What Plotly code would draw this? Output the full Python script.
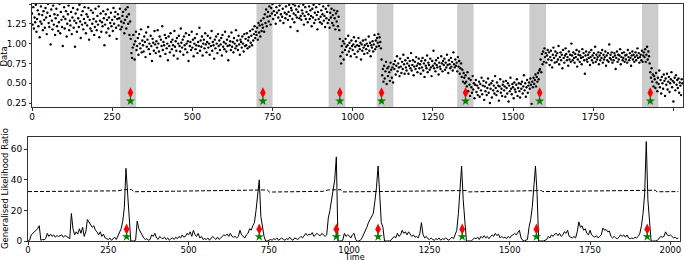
import plotly.graph_objects as go

# ---------------- data ----------------
# top panel: observed data (values in hundredths), sampled every 2 time steps
seg_a = [138,124,146,119,133,127,149,115,131,142,122,137,108,128,147,125,136,117,141,130,
120,145,133,112,139,150,126,121,135,99,143,129,118,148,124,137,111,132,144,122,
136,116,127,150,113,140,130,121,97,134,146,119,131,141,109,125,137,148,117,129,
123,140,112,133,145,120,129,96,138,126,115,143,132,121,149,128,107,136,124,141,
118,131,146,126,113,137,123,134,145,105,130,119,142,116,125,139,131,111,121,144,
128,117,135,124,147,108,129,138,115,127,122,141,132,98,124,137,114,130,143,119,
133,110,126,139,122,130,116,145,125,134,140,120,106,131,137,123,132,144,118,128,
121,135,140,126,113,130,143,119,134,146,125,137,111,128]
seg_b = [106,88,82,95,111,99,80,103,115,92,97,107,86,112,100,94,118,89,104,98,
90,109,102,83,114,96,105,121,93,100,87,110,97,78,106,101,91,116,99,88,
103,95,117,100,90,109,84,105,97,122,92,102,98,111,87,107,94,100,79,109,
97,89,113,102,93,105,98,85,116,96,103,91,107,81,100,110,97,90,119,101,
95,105,86,109,98,93,113,100,89,103,78,111,97,102,92,115,95,105,84,100,
107,93,98,112,88,102,97,120,91,104,96,109,85,100,105,94,113,99,89,102,
110,95,100,86,107,97,116,91,102,98,81,105,94,109,100,88,112,97,104,92,
99,107,85,111,96,102,93,115,100,90,105,97,79,109,98,103,92,114,96,102,
89,107,100,94,117,97,104,92,110,99,86,105,102,95,109,100,90,112,97,106,
98,113,94,104,108,96,116,101,110,98,118,104,112,122,107,115,
111,120,105,126,114,123,109,129,116,124]
seg_c = [120,132,115,137,126,143,122,134,140,128,147,135,124,145,138,
150,131,141,152,136,125,146,139,153,133,142,148,129,137,151,
134,144,126,152,139,132,147,137,155,130,140,149,135,121,145,
142,131,150,138,127,148,136,143,133,116,140,147,132,151,135,
130,142,138,149,124,135,146,131,140,153,127,137,147,131,142,
135,122,144,133,149,126,139,130,146,136,118,140,131,150,127,
134,142,125,137,147,129,135,121,144,132,140,126,148,130,120,
139,133,144,126,136,123,142,132,118,138,128,141,122,134,117]
seg_d = [106,84,75,97,89,103,80,100,92,106,96,86,98,110,90,101,94,84,104,97,
92,99,108,87,96,103,83,98,90,107,97,93,101,80,99,91,104,95,87,98,
105,93,100,88,97,109,91,101,84,98,95,103,90,99,111,93,104,96,107,101,
112,97,108,102,94]
seg_e = [80,60,68,52,72,56,65,77,49,69,59,71,64,53,76,67,57,70,51,74,
68,78,61,72,84,65,75,70,59,81,71,63,77,68,86,74,62,79,70,66,
75,82,62,72,78,69,88,66,73,79,60,71,77,68,83,72,64,75,81,69,
74,62,78,70,82,66,75,58,79,72,69,85,64,76,73,67,81,70,59,78,
72,91,69,75,65,79,73,70,82,61,76,71,68,84,75,65,78,73,81,67,
76,70,86,73,63,79,74,69,82,71,77,66,89,74,70,80,72,76,65,83,
71,78,62,69,75,58,67,52,63,57,50]
seg_f = [60,52,46,64,40,56,48,34,54,45,38,59,42,50,31,48,54,39,47,35,
44,52,33,49,41,57,36,47,53,29,46,40,51,35,44,56,38,48,25,43,
50,32,53,41,47,37,59,44,35,51,40,47,28,46,55,38,43,34,48,52,
41,46,33,53,44,37,50,27,47,40,57,43,36,49,45,31,51,42,39,48,
55,34,44,50,40,32,49,43,52,37,46,60,41,50,33,45,54,38,47,51,
43,56,48,24,52,45,57,49,54,61,46,58,52,63,55,66]
seg_g = [68,80,64,87,74,90,77,94,83,88,
76,85,92,80,89,73,83,91,79,70,86,95,82,76,90,85,77,88,80,97,
74,83,89,79,86,69,92,82,76,85,94,87,79,83,72,90,80,86,77,100,
85,79,89,82,76,87,83,92,71,80,86,90,77,85,82,74,93,83,88,79,
62,85,90,80,77,86,82,89,73,83,92,79,85,76,88,82,96,77,86,80,
83,89,74,85,79,88,82,92,76,86,80,83,90,72,85,79,88,77,99,82,
86,80,89,76,83,79,88,85,68,82,90,77,86,80,85,93,74,83,88,79,
82,89,77,85,80,86,76,92,83,79,88,82,72,85,90,80,86,77,83,89,
79,85,94,82,88,76,83,86,79,91,77,85,
89,83,93,77,86,96,80,90,84,75]
seg_h = [64,57,69,52,61,46,59,55,44,63,51,40,57,49,66,45,54,37,58,50,
43,61,53,34,56,48,62,42,52,58,39,50,55,64,45,53,27,51,57,41,
60,48,54,44,56,38,51,47,35,55,50]

data_hundredths = seg_a + seg_b + seg_c + seg_d + seg_e + seg_f + seg_g + seg_h
data_time = list(range(0, 2 * len(data_hundredths), 2))
data_values = [v / 100 for v in data_hundredths]

# bottom panel: generalised likelihood ratio, every 5 time steps
glr_values = [
0,0.5,4,5,6,7,8,10,0.5,1,0.8,1.5,5,3,4.5,3,4,2.5,3.5,3,
3.5,4,2.5,3.5,3,2,1.5,18,8,4,6,4.5,8,5,9,3,6,14,12,11,
9,10,7,6,4,6,3,4.5,2,1.5,1,2,0.5,1.5,2.5,1,3,5,8,13,
22,47.5,30,12,0,0,0,0.5,13,8,6,3,2,1,1.5,0.5,1,4,3,5,
2,1,3,2,1.5,2.5,1,2,0.5,1.5,2,1,2.5,1.5,3,2,4,2.5,3,5,
4,6,3,7,4,3,5,2,3,1,1.5,1,2,0.5,1.5,3,2,1,2.5,1,
2,3,4,3.5,4.5,3,5,3,2.5,3,2,3,7,4,3,2,4,5,8,7,
10,12,20,31,40,16,9,3,0,0,0.5,1,0.5,1.5,1,2,0.5,1,2,1,
0.5,1.5,1,2.5,1,0.5,2,1.5,1,2,3,2,4,5,3.5,4.5,4,5.5,3,4,
5,4,3.5,5,4,3,4,15,20,26,32,40,55,0,0,0,0.5,5,3,4,
3.5,2,4,5,1,0,0,0.5,2,4,6,9,12,14,16,18,26,35,49,25,
12,9,0,0,0,0,0.5,2,3,2,5,3,4,7,5,6,4,6,4,3,
4,2.5,3,2,5,12,4,2,3,1.5,1,2,1,0.5,1.5,1,2,0.5,1.5,1,
2,1,0.5,1.5,2.5,1.5,4,7,18,31,49,27,14,0,0,0,0,1,2,1.5,
2.5,1,3,2,3.5,2,3,1.5,2.5,4,3,5,3.5,4.5,2,3,2,2.5,1.5,3,
2,3.5,4,5,4,5.5,7,2,0.5,0,0.5,1,9,14,22,33,49,31,0,0,
0,0,0.5,1,3,2,4,3,4.5,5,3.5,5,3,4,6,5,7,3,2.5,2,
3,2,6,12.5,9,10,7,8,5,4,7,4,3,2.5,3.5,2,3,4,8.5,7,
7.5,6,6.5,3,2,3,2,1.5,2.5,4,3,4,2.5,4,2,1.5,2,1.5,2.5,2,
3,5,10,18,31,65,27,12,0,0,0,0,0.5,2,3,2.5,3,6,4,3.5,
4,3,2,2.5,1.5,2]
glr_time = list(range(0, 5 * len(glr_values), 5))

# detection threshold (knots)
thr_time = [0,280,300,322,330,690,700,745,752,920,935,975,980,1340,1350,1365,1370,1570,1580,1598,1603,1900,1920,1953,1958,2025]
thr_values = [32.3,32.8,33.6,33.7,32.2,32.9,33.3,33.4,32.0,32.5,33.4,33.5,32.1,32.6,33.0,33.0,32.1,32.7,33.0,33.0,32.3,32.8,33.2,33.2,32.2,32.3]

# change points
detected_cp = [307, 720, 960, 1090, 1352, 1583, 1928]
true_cp = [307, 720, 960, 1090, 1352, 1583, 1928]
band_start = [275, 700, 925, 1075, 1326, 1551, 1902]
band_end = [325, 750, 977, 1127, 1377, 1603, 1953]

# marker heights
top_detect_y, top_true_y = 0.38, 0.275
bot_detect_y, bot_true_y = 7.7, 2.8

x_ticks = [0, 250, 500, 750, 1000, 1250, 1500, 1750, 2000]
top_y_ticks = [0.25, 0.50, 0.75, 1.00, 1.25, 1.50]
top_y_labels = ["0.25", "0.50", "0.75", "1.00", "1.25", "1.50"]
bot_y_ticks = [0, 20, 40, 60]

# ---------------- figure ----------------
W, H = 685, 261
FONT = "DejaVu Sans"
fig = go.Figure()

fig.add_trace(go.Scatter(x=data_time, y=data_values, mode="markers",
                         marker=dict(color="black", size=2.4, line=dict(width=0)),
                         xaxis="x", yaxis="y", showlegend=False, hoverinfo="skip"))
fig.add_trace(go.Scatter(x=detected_cp, y=[top_detect_y] * len(detected_cp), mode="markers",
                         marker=dict(symbol="diamond-tall", color="red", size=8, line=dict(width=0)),
                         xaxis="x", yaxis="y", showlegend=False))
fig.add_trace(go.Scatter(x=true_cp, y=[top_true_y] * len(true_cp), mode="markers",
                         marker=dict(symbol="star", color="green", size=7, line=dict(width=0)),
                         xaxis="x", yaxis="y", showlegend=False))

fig.add_trace(go.Scatter(x=thr_time, y=thr_values, mode="lines",
                         line=dict(color="black", width=1, dash="4px,2px"),
                         xaxis="x2", yaxis="y2", showlegend=False))
fig.add_trace(go.Scatter(x=glr_time, y=glr_values, mode="lines",
                         line=dict(color="black", width=1),
                         xaxis="x2", yaxis="y2", showlegend=False))
fig.add_trace(go.Scatter(x=detected_cp, y=[bot_detect_y] * len(detected_cp), mode="markers",
                         marker=dict(symbol="diamond-tall", color="red", size=8, line=dict(width=0)),
                         xaxis="x2", yaxis="y2", showlegend=False))
fig.add_trace(go.Scatter(x=true_cp, y=[bot_true_y] * len(true_cp), mode="markers",
                         marker=dict(symbol="star", color="green", size=7, line=dict(width=0)),
                         xaxis="x2", yaxis="y2", showlegend=False))

for s, e in zip(band_start, band_end):
    fig.add_shape(type="rect", xref="x", yref="y domain", x0=s, x1=e, y0=0, y1=1,
                  fillcolor="#cccccc", line=dict(width=0), layer="below")

axis_common = dict(showline=True, mirror=True, linecolor="#333333", linewidth=1,
                   ticks="outside", tickwidth=1, tickcolor="#333333",
                   showgrid=False, zeroline=False, automargin=False)
tick_font = dict(family=FONT, size=9, color="black")
tick_font_small = dict(family=FONT, size=8.5, color="black")

label_font = dict(family=FONT, size=8.5, color="black")
fig.update_layout(
    width=W, height=H, margin=dict(l=0, r=0, t=0, b=0, autoexpand=False),
    paper_bgcolor="white", plot_bgcolor="white",
    xaxis=dict(domain=[32 / W, 683 / W], range=[0, 2030], anchor="y", ticklen=2.5,
               ticklabelstandoff=-1, tickvals=x_ticks, tickfont=tick_font, **axis_common),
    yaxis=dict(domain=[1 - 107 / H, 1 - 4 / H], range=[0.2, 1.5], anchor="x", ticklen=2.5,
               tickvals=top_y_ticks, ticktext=top_y_labels, tickfont=tick_font, **axis_common),
    xaxis2=dict(domain=[28 / W, 680 / W], range=[0, 2030], anchor="y2", ticklen=2.5,
                ticklabelstandoff=-2, tickvals=x_ticks, tickfont=tick_font_small, **axis_common),
    yaxis2=dict(domain=[1 - 241 / H, 1 - 137 / H], range=[0, 68], anchor="x2", ticklen=3,
                tickvals=bot_y_ticks, tickfont=tick_font, **axis_common),
    annotations=[
        dict(text="Data", xref="paper", yref="paper", x=3.5 / W, y=1 - 57 / H,
             xanchor="center", yanchor="middle",
             textangle=-90, showarrow=False, font=label_font),
        dict(text="Generalised Likelihood Ratio", xref="paper", yref="paper", x=5 / W, y=1 - 189 / H,
             xanchor="center", yanchor="middle",
             textangle=-90, showarrow=False, font=label_font),
        dict(text="Time", xref="paper", yref="paper", x=354 / W, y=1 - 257 / H,
             xanchor="center", yanchor="middle",
             showarrow=False, font=dict(family=FONT, size=8, color="black")),
    ],
)

fig.write_html("out.html", config={"displayModeBar": False},
               post_script="document.body.style.margin='0';document.body.style.padding='0';")
